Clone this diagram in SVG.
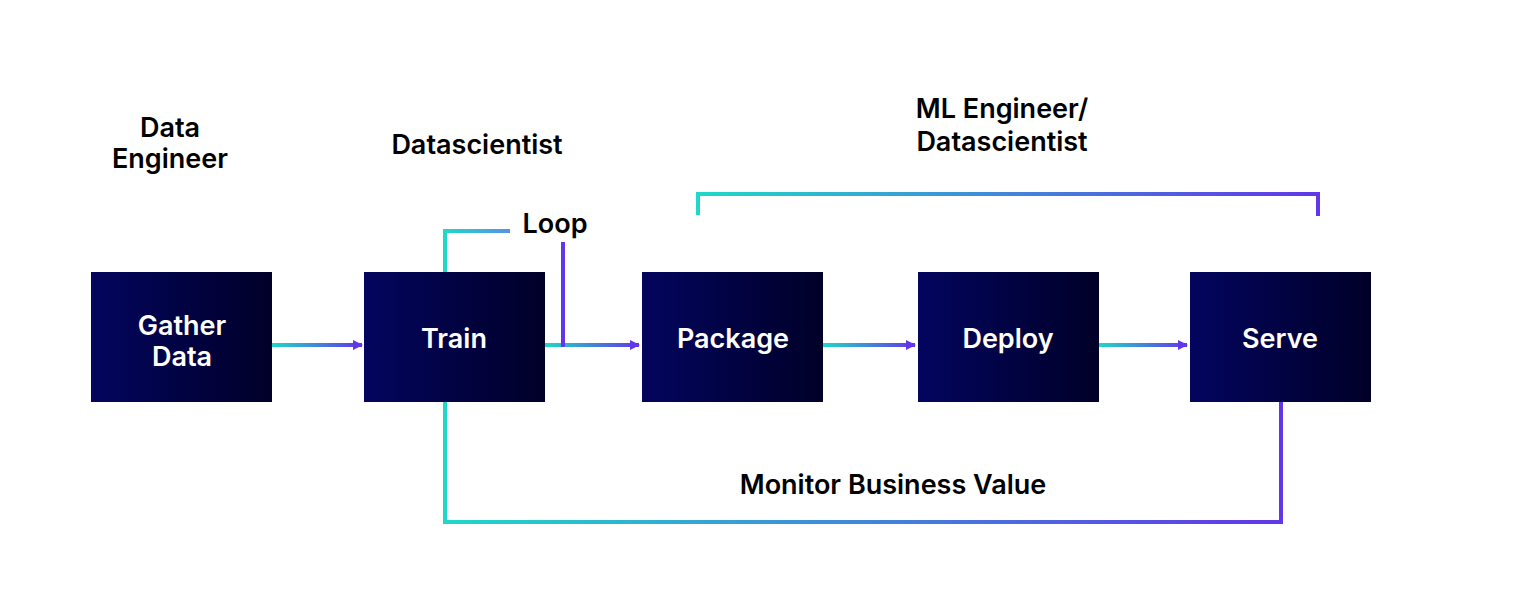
<svg xmlns="http://www.w3.org/2000/svg" width="1536" height="589" viewBox="0 0 1536 589">
<defs>
<linearGradient id="box" x1="0" x2="1" y1="0" y2="0"><stop offset="0" stop-color="#03055e"/><stop offset="1" stop-color="#000028"/></linearGradient>
<linearGradient id="ln" x1="0" x2="1" y1="0" y2="0"><stop offset="0" stop-color="#1fd8c8"/><stop offset="1" stop-color="#6236ea"/></linearGradient>
<linearGradient id="lnu" gradientUnits="userSpaceOnUse" x1="445" x2="1281" y1="0" y2="0"><stop offset="0" stop-color="#1fd8c8"/><stop offset="1" stop-color="#6236ea"/></linearGradient>
<linearGradient id="lnt" gradientUnits="userSpaceOnUse" x1="698" x2="1318" y1="0" y2="0"><stop offset="0" stop-color="#1fd8c8"/><stop offset="1" stop-color="#6236ea"/></linearGradient>
<linearGradient id="lnl" gradientUnits="userSpaceOnUse" x1="445" x2="512" y1="0" y2="0"><stop offset="0" stop-color="#1fd8c8"/><stop offset="1" stop-color="#5a8ee8"/></linearGradient>
<marker id="ah" markerWidth="10" markerHeight="10" refX="9" refY="5" orient="auto" markerUnits="userSpaceOnUse" viewBox="0 0 10 10"><path d="M0,0 L10,5 L0,10 z" fill="#6236ea"/></marker>
</defs>
<style>
.t{font-family:Inter,"DejaVu Sans",sans-serif;font-weight:600;font-size:27px;fill:#000;text-anchor:middle}
.w{fill:#fff}
.c{fill:none;stroke-width:4}
</style>
<rect width="1536" height="589" fill="#fff"/>
<g id="connectors">
<line class="c" x1="272" y1="345" x2="362" y2="345.01" stroke="url(#ln)" marker-end="url(#ah)"/>
<line class="c" x1="545" y1="345" x2="639" y2="345.01" stroke="url(#ln)" marker-end="url(#ah)"/>
<line class="c" x1="823" y1="345" x2="915" y2="345.01" stroke="url(#ln)" marker-end="url(#ah)"/>
<line class="c" x1="1099" y1="345" x2="1187" y2="345.01" stroke="url(#ln)" marker-end="url(#ah)"/>
<polyline class="c" points="445,272 445,231 510,231" stroke="url(#lnl)"/>
<line class="c" x1="563" y1="242" x2="563" y2="347" stroke="#6236ea"/>
<polyline class="c" points="698,215 698,194 1318,194 1318,216" stroke="url(#lnt)"/>
<polyline class="c" points="445,402 445,522 1281,522 1281,402" stroke="url(#lnu)"/>
</g>
<g id="gather"><rect x="91" y="272" width="181" height="130" fill="url(#box)"/><text class="t w" x="182" y="335">Gather</text><text class="t w" x="182" y="366">Data</text></g>
<g id="train"><rect x="364" y="272" width="181" height="130" fill="url(#box)"/><text class="t w" x="454" y="348">Train</text></g>
<g id="package"><rect x="642" y="272" width="181" height="130" fill="url(#box)"/><text class="t w" x="733" y="348">Package</text></g>
<g id="deploy"><rect x="918" y="272" width="181" height="130" fill="url(#box)"/><text class="t w" x="1008" y="348">Deploy</text></g>
<g id="serve"><rect x="1190" y="272" width="181" height="130" fill="url(#box)"/><text class="t w" x="1280" y="348">Serve</text></g>
<g id="labels">
<text class="t" x="170" y="137">Data</text><text class="t" x="170" y="168">Engineer</text>
<text class="t" x="477" y="154">Datascientist</text>
<text class="t" x="1002" y="118">ML Engineer/</text><text class="t" x="1002" y="151">Datascientist</text>
<text class="t" x="555" y="233">Loop</text>
<text class="t" x="893" y="494">Monitor Business Value</text>
</g>
</svg>
